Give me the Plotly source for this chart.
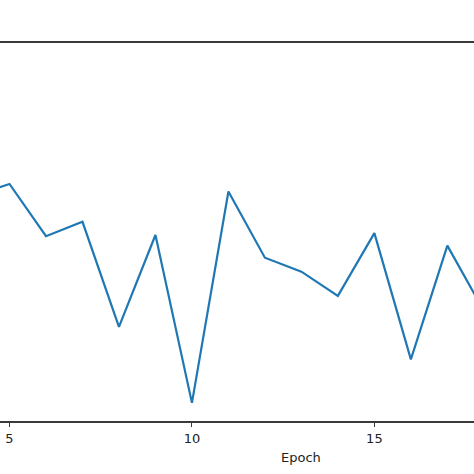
import plotly.graph_objects as go

epochs = [4, 5, 6, 7, 8, 9, 10, 11, 12, 13, 14, 15, 16, 17, 18]
values = [0.596, 0.627, 0.489, 0.527, 0.249, 0.492, 0.048, 0.607, 0.432,
          0.395, 0.331, 0.497, 0.163, 0.464, 0.291]
x_ticks = [5, 10, 15]
x_label = "Epoch"

fig = go.Figure()
fig.add_trace(go.Scatter(x=epochs, y=values, mode="lines",
                         line=dict(color="#1f77b4", width=2.2), showlegend=False))

fig.update_layout(
    width=474, height=474,
    margin=dict(l=0, r=0, t=43, b=53),
    paper_bgcolor="white", plot_bgcolor="white",
    font=dict(family="DejaVu Sans", size=13, color="#222222"),
    xaxis=dict(range=[4.74, 17.73], tickvals=x_ticks, ticktext=[str(t) for t in x_ticks],
               showline=True, linecolor="#3a3a3a", linewidth=1.8, mirror=True,
               ticks="outside", ticklen=4, tickwidth=1.2, tickcolor="#3a3a3a",
               showgrid=False, zeroline=False, automargin=False),
    yaxis=dict(range=[0, 1], showline=False, showticklabels=False, ticks="",
               showgrid=False, zeroline=False, automargin=False),
)
fig.add_annotation(text=x_label, x=13.0, xref="x", y=0, yref="y domain",
                   yanchor="middle", yshift=-36, showarrow=False,
                   font=dict(size=13, color="#222222"))
fig.write_html("out.html", config={"displayModeBar": False},
               post_script="document.body.style.margin='0';document.body.style.padding='0';")
